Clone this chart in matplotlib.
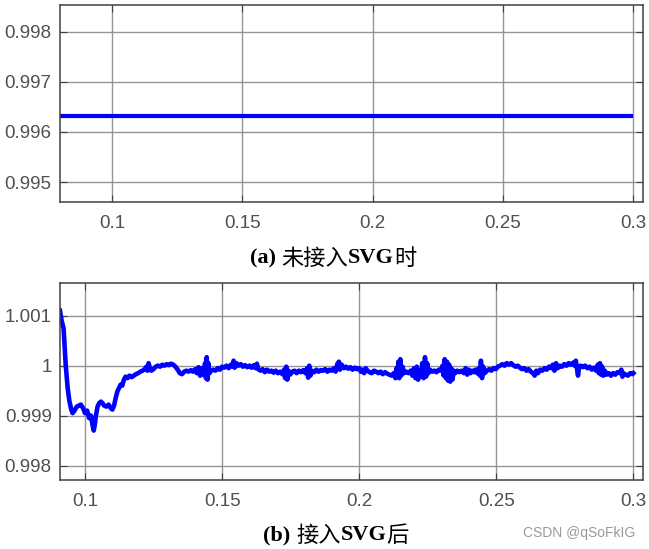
import matplotlib
matplotlib.use("Agg")
import matplotlib.pyplot as plt

# ---------------- data ----------------
top_t = [0.0801, 0.3000]
top_pf = [0.99632, 0.99632]

bottom_t = [
    0.0909, 0.0915, 0.0922, 0.0930, 0.0937, 0.0943, 0.0950, 0.0955, 0.0962, 0.0970,
    0.0978, 0.0985, 0.0993, 0.1000, 0.1008, 0.1015, 0.1022, 0.1028, 0.1032, 0.1036,
    0.1040, 0.1046, 0.1052, 0.1058, 0.1064, 0.1070, 0.1078, 0.1086, 0.1094, 0.1100,
    0.1106, 0.1112, 0.1118, 0.1124, 0.1130, 0.1136, 0.1142, 0.1148, 0.1155, 0.1162,
    0.1170, 0.1178, 0.1186, 0.1194, 0.1202, 0.1210, 0.1218, 0.1224, 0.1228, 0.1232,
    0.1237, 0.1242, 0.1250, 0.1258, 0.1266, 0.1274, 0.1282, 0.1290, 0.1298, 0.1306,
    0.1314, 0.1322, 0.1330, 0.1338, 0.1346, 0.1354, 0.1362, 0.1370, 0.1378, 0.1386,
    0.1394, 0.1402, 0.1408, 0.1414, 0.1420, 0.1426, 0.1432, 0.1438, 0.1441, 0.1444,
    0.1447, 0.1450, 0.1454, 0.1460, 0.1468, 0.1476, 0.1484, 0.1492, 0.1500, 0.1508,
    0.1516, 0.1524, 0.1532, 0.1538, 0.1542, 0.1546, 0.1552, 0.1560, 0.1568, 0.1576,
    0.1584, 0.1592, 0.1600, 0.1608, 0.1616, 0.1622, 0.1627, 0.1632, 0.1640, 0.1648,
    0.1656, 0.1664, 0.1672, 0.1680, 0.1688, 0.1696, 0.1704, 0.1712, 0.1720, 0.1726,
    0.1730, 0.1734, 0.1738, 0.1742, 0.1748, 0.1756, 0.1764, 0.1772, 0.1780, 0.1788,
    0.1796, 0.1804, 0.1810, 0.1814, 0.1818, 0.1822, 0.1828, 0.1836, 0.1844, 0.1852,
    0.1860, 0.1868, 0.1876, 0.1884, 0.1892, 0.1900, 0.1908, 0.1914, 0.1920, 0.1926,
    0.1930, 0.1936, 0.1944, 0.1952, 0.1960, 0.1968, 0.1976, 0.1984, 0.1992, 0.2000,
    0.2006, 0.2012, 0.2018, 0.2024, 0.2030, 0.2038, 0.2046, 0.2054, 0.2062, 0.2070,
    0.2078, 0.2086, 0.2094, 0.2102, 0.2110, 0.2118, 0.2126, 0.2132, 0.2136, 0.2140,
    0.2143, 0.2146, 0.2150, 0.2153, 0.2158, 0.2164, 0.2172, 0.2180, 0.2188, 0.2194,
    0.2200, 0.2205, 0.2210, 0.2215, 0.2220, 0.2225, 0.2230, 0.2235, 0.2240, 0.2244,
    0.2248, 0.2252, 0.2258, 0.2266, 0.2274, 0.2282, 0.2290, 0.2298, 0.2304, 0.2308,
    0.2312, 0.2316, 0.2320, 0.2324, 0.2328, 0.2332, 0.2336, 0.2340, 0.2345, 0.2350,
    0.2358, 0.2366, 0.2374, 0.2382, 0.2388, 0.2394, 0.2400, 0.2406, 0.2412, 0.2418,
    0.2424, 0.2430, 0.2436, 0.2440, 0.2444, 0.2448, 0.2452, 0.2458, 0.2466, 0.2474,
    0.2482, 0.2490, 0.2498, 0.2506, 0.2514, 0.2522, 0.2530, 0.2538, 0.2546, 0.2554,
    0.2562, 0.2570, 0.2578, 0.2586, 0.2594, 0.2602, 0.2610, 0.2618, 0.2626, 0.2634,
    0.2640, 0.2646, 0.2652, 0.2660, 0.2668, 0.2676, 0.2684, 0.2692, 0.2700, 0.2706,
    0.2712, 0.2718, 0.2724, 0.2732, 0.2740, 0.2748, 0.2756, 0.2764, 0.2772, 0.2780,
    0.2786, 0.2790, 0.2794, 0.2798, 0.2802, 0.2808, 0.2816, 0.2824, 0.2832, 0.2840,
    0.2848, 0.2856, 0.2864, 0.2870, 0.2874, 0.2878, 0.2882, 0.2886, 0.2890, 0.2896,
    0.2902, 0.2910, 0.2918, 0.2926, 0.2934, 0.2942, 0.2950, 0.2956, 0.2960, 0.2964,
    0.2972, 0.2980, 0.2988, 0.2996, 0.3000,
]
bottom_pf = [
    1.00110, 1.00090, 1.00075, 1.00000, 0.99955, 0.99930, 0.99912, 0.99905, 0.99910, 0.99918,
    0.99920, 0.99922, 0.99915, 0.99905, 0.99910, 0.99895, 0.99900, 0.99880, 0.99870, 0.99882,
    0.99900, 0.99918, 0.99925, 0.99928, 0.99925, 0.99920, 0.99918, 0.99922, 0.99915, 0.99912,
    0.99920, 0.99935, 0.99948, 0.99955, 0.99962, 0.99960, 0.99972, 0.99978, 0.99975, 0.99980,
    0.99977, 0.99980, 0.99983, 0.99985, 0.99988, 0.99990, 0.99993, 0.99998, 0.99990, 1.00005,
    0.99995, 0.99990, 0.99993, 0.99998, 1.00000, 0.99998, 1.00002, 1.00000, 1.00003, 1.00001,
    1.00004, 1.00002, 0.99998, 0.99992, 0.99985, 0.99983, 0.99988, 0.99990, 0.99988, 0.99991,
    0.99988, 0.99993, 0.99985, 0.99997, 0.99980, 0.99995, 0.99982, 1.00005, 0.99975, 1.00017,
    0.99972, 1.00005, 0.99985, 0.99990, 0.99992, 0.99990, 0.99995, 0.99992, 0.99998, 0.99996,
    1.00000, 0.99995, 1.00002, 0.99998, 1.00010, 0.99996, 1.00005, 1.00000, 1.00003, 0.99998,
    1.00001, 0.99997, 1.00000, 0.99996, 1.00001, 0.99995, 1.00004, 0.99993, 0.99990, 0.99993,
    0.99987, 0.99992, 0.99988, 0.99990, 0.99986, 0.99990, 0.99985, 0.99988, 0.99983, 0.99992,
    0.99975, 0.99998, 0.99972, 0.99990, 0.99982, 0.99988, 0.99990, 0.99985, 0.99990, 0.99987,
    0.99991, 0.99985, 0.99995, 0.99976, 1.00000, 0.99980, 0.99990, 0.99987, 0.99992, 0.99988,
    0.99991, 0.99990, 0.99993, 0.99988, 0.99992, 0.99990, 0.99995, 0.99988, 1.00003, 1.00008,
    0.99992, 1.00002, 0.99995, 0.99998, 0.99994, 0.99997, 0.99992, 0.99996, 0.99993, 0.99995,
    0.99988, 0.99992, 0.99985, 0.99995, 0.99990, 0.99987, 0.99985, 0.99990, 0.99988, 0.99985,
    0.99988, 0.99983, 0.99987, 0.99984, 0.99982, 0.99980, 0.99985, 0.99975, 0.99995, 0.99978,
    1.00008, 0.99975, 1.00013, 0.99980, 0.99998, 0.99985, 0.99988, 0.99985, 0.99990, 0.99980,
    0.99995, 0.99975, 0.99998, 0.99972, 0.99990, 0.99978, 1.00005, 0.99975, 1.00017, 0.99978,
    1.00005, 0.99985, 0.99992, 0.99988, 0.99990, 0.99987, 0.99992, 0.99990, 1.00000, 0.99980,
    1.00013, 0.99975, 1.00008, 0.99970, 1.00002, 0.99968, 0.99995, 0.99972, 0.99990, 0.99985,
    0.99990, 0.99987, 0.99990, 0.99985, 0.99995, 0.99982, 0.99992, 0.99985, 0.99990, 0.99987,
    0.99992, 0.99985, 0.99995, 0.99980, 1.00010, 0.99975, 0.99998, 0.99985, 0.99990, 0.99993,
    0.99990, 0.99995, 0.99993, 0.99998, 1.00000, 1.00003, 1.00000, 1.00005, 1.00002, 1.00005,
    1.00001, 0.99998, 1.00000, 0.99996, 0.99993, 0.99995, 0.99990, 0.99993, 0.99988, 0.99985,
    0.99980, 0.99990, 0.99985, 0.99992, 0.99990, 0.99995, 0.99992, 0.99998, 0.99995, 1.00002,
    0.99990, 1.00005, 0.99995, 1.00000, 0.99998, 1.00003, 1.00000, 1.00005, 1.00002, 1.00006,
    1.00000, 1.00010, 0.99995, 0.99980, 0.99998, 1.00000, 0.99997, 1.00000, 0.99995, 0.99998,
    0.99992, 0.99996, 0.99990, 1.00002, 0.99985, 1.00005, 0.99982, 0.99998, 0.99980, 0.99990,
    0.99982, 0.99985, 0.99980, 0.99985, 0.99982, 0.99987, 0.99985, 0.99992, 0.99978, 0.99985,
    0.99982, 0.99980, 0.99985, 0.99983, 0.99985,
]

x_ticks = [0.1, 0.15, 0.2, 0.25, 0.3]
x_tick_labels = ["0.1", "0.15", "0.2", "0.25", "0.3"]
top_y_ticks = [0.995, 0.996, 0.997, 0.998]
top_y_labels = ["0.995", "0.996", "0.997", "0.998"]
bottom_y_ticks = [0.998, 0.999, 1.0, 1.001]
bottom_y_labels = ["0.998", "0.999", "1", "1.001"]

caption_a = [("(a) ", "bold"), ("未接入", "normal"), ("SVG", "bold"), ("时", "normal")]
caption_b = [("(b) ", "bold"), ("接入", "normal"), ("SVG", "bold"), ("后", "normal")]

# ---------------- figure ----------------
W, H = 649, 549
fig = plt.figure(figsize=(W / 100, H / 100), dpi=100)

tick_font = ["Liberation Sans", "DejaVu Sans"]
tick_color = "#505050"
grid_color = "#8a8a8a"
spine_color = "#404040"


def style_axes(ax, xlim, ylim, yticks, ylabels):
    ax.set_xlim(*xlim)
    ax.set_ylim(*ylim)
    ax.set_xticks(x_ticks)
    ax.set_xticklabels(x_tick_labels, family=tick_font, fontsize=13.5, color=tick_color)
    ax.set_yticks(yticks)
    ax.set_yticklabels(ylabels, family=tick_font, fontsize=13.5, color=tick_color)
    ax.tick_params(direction="in", length=5, width=0.8, color=spine_color,
                   top=True, right=True)
    ax.tick_params(axis="x", pad=9)
    ax.tick_params(axis="y", pad=6)
    ax.grid(True, color=grid_color, linewidth=1.0, alpha=0.9)
    ax.set_axisbelow(True)
    for s in ax.spines.values():
        s.set_color(spine_color)
        s.set_linewidth(1.1)


ax1 = fig.add_axes([60 / W, 1 - 202 / H, 583 / W, 197 / H])
ax1.plot(top_t, top_pf, color="#0000ff", linewidth=3.0, solid_capstyle="butt")
style_axes(ax1, (0.0801, 0.3037), (0.99460, 0.99854), top_y_ticks, top_y_labels)

ax2 = fig.add_axes([60 / W, 1 - 480 / H, 583 / W, 196.7 / H])
ax2.plot(bottom_t, bottom_pf, color="#0000ff", linewidth=3.3, solid_joinstyle="round")
style_axes(ax2, (0.0909, 0.3035), (0.99771, 1.00165), bottom_y_ticks, bottom_y_labels)


def caption(pieces, cx, cy):
    fig.canvas.draw()
    r = fig.canvas.get_renderer()
    texts = []
    for s, w in pieces:
        if w == "bold":
            t = fig.text(0, cy, s, fontsize=16, fontweight="bold",
                         family=["Liberation Serif", "Noto Sans CJK SC"],
                         va="center", ha="left", color="black")
        else:
            t = fig.text(0, cy, s, fontsize=16, fontweight="normal",
                         family=["Noto Sans CJK SC", "Liberation Serif"],
                         va="center", ha="left", color="black")
        texts.append(t)
    widths = [t.get_window_extent(r).width for t in texts]
    total = sum(widths)
    x = cx * W - total / 2
    for t, w in zip(texts, widths):
        t.set_x(x / W)
        x += w


caption(caption_a, 333 / W, 1 - 258 / H)
caption(caption_b, 336 / W, 1 - 535 / H)

fig.text(635 / W, 1 - 533 / H, "CSDN @qSoFkIG", ha="right", va="center",
         fontsize=10, color="#9a9a9a", family=tick_font)

fig.savefig("out.png", dpi=100)
